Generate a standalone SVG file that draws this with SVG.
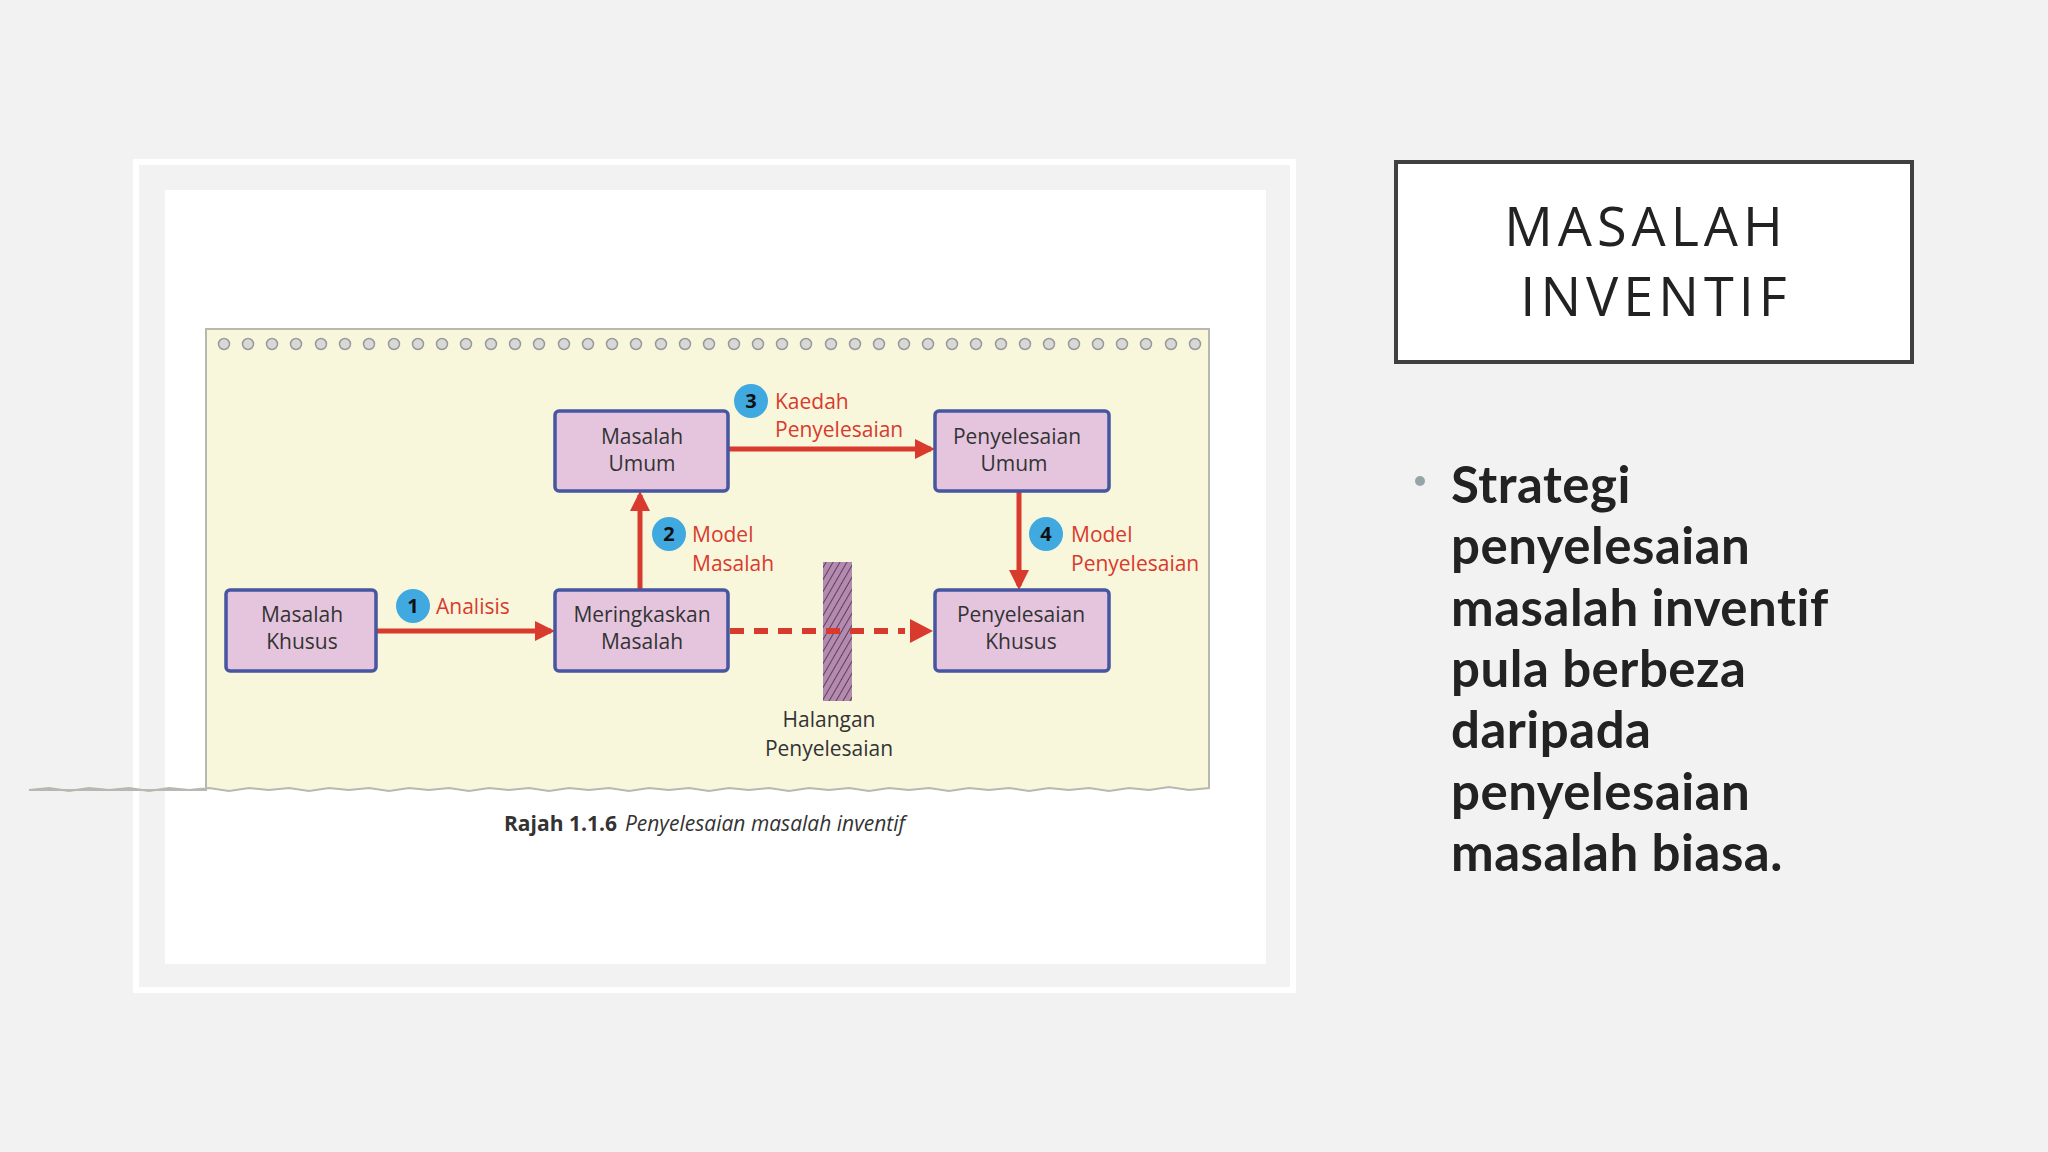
<svg xmlns="http://www.w3.org/2000/svg" width="2048" height="1152" viewBox="0 0 2048 1152">
<defs>
<marker id="ah" viewBox="0 0 10 10" refX="8" refY="5" markerWidth="4" markerHeight="4" orient="auto" markerUnits="strokeWidth"><path d="M0,0 L10,5 L0,10 z" fill="#d93a2e"/></marker>
<pattern id="hatch" width="6" height="6" patternUnits="userSpaceOnUse" patternTransform="rotate(30)"><rect width="6" height="6" fill="#b48aae"/><line x1="0" y1="0" x2="0" y2="6" stroke="#5a4060" stroke-width="2"/></pattern>
</defs>
<style>
.box{fill:#e5c5de;stroke:#4656a0;stroke-width:3.5}
.bt{font-family:"Open Sans",sans-serif;font-size:21px;fill:#333;text-anchor:middle}
.lbl{font-family:"Open Sans",sans-serif;font-size:21px;fill:#d93a2e}
.num{font-family:"Open Sans",sans-serif;font-size:20px;font-weight:bold;fill:#111;text-anchor:middle}
.circ{fill:#3fa9e0}
.arr{stroke:#d93a2e;stroke-width:5;fill:none;marker-end:url(#ah)}
.bul{font-family:Lato,sans-serif;font-weight:bold;font-size:51px;fill:#222;letter-spacing:0.5px}
</style>
<rect width="2048" height="1152" fill="#f2f2f2"/>
<rect x="136" y="162" width="1157" height="828" fill="none" stroke="#fff" stroke-width="6"/>
<rect x="165" y="190" width="1101" height="774" fill="#fff"/>
<g id="paper">
<path d="M206,329 L1209,329 L1209,788 l-20,2 l-20,-3 l-20,3 l-20,-2 l-20,3 l-20,-3 l-20,2 l-20,-2 l-20,3 l-20,-3 l-20,2 l-20,-2 l-20,3 l-20,-3 l-20,2 l-20,-2 l-20,3 l-20,-3 l-20,2 l-20,-2 l-20,3 l-20,-3 l-20,2 l-20,-2 l-20,3 l-20,-3 l-20,2 l-20,-2 l-20,3 l-20,-3 l-20,2 l-20,-2 l-20,3 l-20,-3 l-20,2 l-20,-2 l-20,3 l-20,-3 l-20,2 l-20,-2 l-20,3 l-20,-3 l-20,2 l-20,-2 l-20,3 l-20,-3 l-20,2 l-20,-2 l-20,3 l-20,-3 l-20,2 l-20,-2 l-20,3 l-20,-3 l-20,2 l-20,-2 l-20,3 l-20,-3 l-20,2 L206,790 Z" fill="#f8f7dc" stroke="#b8b8b0" stroke-width="2"/>
<g fill="#d8d8d8" stroke="#999" stroke-width="1.5">
<circle cx="224" cy="344" r="5.5"/><circle cx="248" cy="344" r="5.5"/><circle cx="272" cy="344" r="5.5"/><circle cx="296" cy="344" r="5.5"/><circle cx="321" cy="344" r="5.5"/><circle cx="345" cy="344" r="5.5"/><circle cx="369" cy="344" r="5.5"/><circle cx="394" cy="344" r="5.5"/><circle cx="418" cy="344" r="5.5"/><circle cx="442" cy="344" r="5.5"/><circle cx="466" cy="344" r="5.5"/><circle cx="491" cy="344" r="5.5"/><circle cx="515" cy="344" r="5.5"/><circle cx="539" cy="344" r="5.5"/><circle cx="564" cy="344" r="5.5"/><circle cx="588" cy="344" r="5.5"/><circle cx="612" cy="344" r="5.5"/><circle cx="636" cy="344" r="5.5"/><circle cx="661" cy="344" r="5.5"/><circle cx="685" cy="344" r="5.5"/><circle cx="709" cy="344" r="5.5"/><circle cx="734" cy="344" r="5.5"/><circle cx="758" cy="344" r="5.5"/><circle cx="782" cy="344" r="5.5"/><circle cx="806" cy="344" r="5.5"/><circle cx="831" cy="344" r="5.5"/><circle cx="855" cy="344" r="5.5"/><circle cx="879" cy="344" r="5.5"/><circle cx="904" cy="344" r="5.5"/><circle cx="928" cy="344" r="5.5"/><circle cx="952" cy="344" r="5.5"/><circle cx="976" cy="344" r="5.5"/><circle cx="1001" cy="344" r="5.5"/><circle cx="1025" cy="344" r="5.5"/><circle cx="1049" cy="344" r="5.5"/><circle cx="1074" cy="344" r="5.5"/><circle cx="1098" cy="344" r="5.5"/><circle cx="1122" cy="344" r="5.5"/><circle cx="1146" cy="344" r="5.5"/><circle cx="1171" cy="344" r="5.5"/><circle cx="1195" cy="344" r="5.5"/>
</g>
</g>
<g id="obstacle">
<rect x="823" y="562" width="29" height="139" fill="url(#hatch)"/>
<text class="bt" x="829" y="727">Halangan</text>
<text class="bt" x="829" y="756">Penyelesaian</text>
</g>
<g id="connectors">
<line class="arr" x1="376" y1="631" x2="551" y2="631"/>
<line class="arr" x1="640" y1="590" x2="640" y2="495"/>
<line class="arr" x1="728" y1="449" x2="931" y2="449"/>
<line class="arr" x1="1019" y1="491" x2="1019" y2="586"/>
<line x1="730" y1="631" x2="905" y2="631" stroke="#d93a2e" stroke-width="6" stroke-dasharray="14,10"/>
<path d="M910,619 L933,631 L910,643 z" fill="#d93a2e"/>
<g id="l1"><circle class="circ" cx="413" cy="606" r="17"/><text class="num" x="413" y="613">1</text><text class="lbl" x="436" y="614">Analisis</text></g>
<g id="l2"><circle class="circ" cx="669" cy="534" r="17"/><text class="num" x="669" y="541">2</text><text class="lbl" x="692" y="542">Model</text><text class="lbl" x="692" y="571">Masalah</text></g>
<g id="l3"><circle class="circ" cx="751" cy="401" r="17"/><text class="num" x="751" y="408">3</text><text class="lbl" x="775" y="409">Kaedah</text><text class="lbl" x="775" y="437">Penyelesaian</text></g>
<g id="l4"><circle class="circ" cx="1046" cy="534" r="17"/><text class="num" x="1046" y="541">4</text><text class="lbl" x="1071" y="542">Model</text><text class="lbl" x="1071" y="571">Penyelesaian</text></g>
</g>
<g id="mu"><rect class="box" x="555" y="411" width="173" height="80" rx="4"/><text class="bt" x="642" y="444">Masalah</text><text class="bt" x="642" y="471">Umum</text></g>
<g id="pu"><rect class="box" x="935" y="411" width="174" height="80" rx="4"/><text class="bt" x="1017" y="444">Penyelesaian</text><text class="bt" x="1014" y="471">Umum</text></g>
<g id="mk"><rect class="box" x="226" y="590" width="150" height="81" rx="4"/><text class="bt" x="302" y="622">Masalah</text><text class="bt" x="302" y="649">Khusus</text></g>
<g id="mm"><rect class="box" x="555" y="590" width="173" height="81" rx="4"/><text class="bt" x="642" y="622">Meringkaskan</text><text class="bt" x="642" y="649">Masalah</text></g>
<g id="pk"><rect class="box" x="935" y="590" width="174" height="81" rx="4"/><text class="bt" x="1021" y="622">Penyelesaian</text><text class="bt" x="1021" y="649">Khusus</text></g>
<text x="504" y="831" font-family="'Open Sans',sans-serif" font-size="21" fill="#333"><tspan font-weight="bold">Rajah 1.1.6</tspan><tspan font-style="italic" dx="8">Penyelesaian masalah inventif</tspan></text>
<g id="title">
<rect x="1396" y="162" width="516" height="200" fill="#fff" stroke="#404040" stroke-width="4"/>
<text x="1646" y="246" font-family="'Open Sans',sans-serif" font-size="54" letter-spacing="5" fill="#222" text-anchor="middle">MASALAH</text>
<text x="1656" y="316" font-family="'Open Sans',sans-serif" font-size="54" letter-spacing="5" fill="#222" text-anchor="middle">INVENTIF</text>
</g>
<g id="bullet">
<circle cx="1420" cy="481" r="5" fill="#95a5a6"/>
<text class="bul" x="1451" y="503">Strategi</text>
<text class="bul" x="1451" y="564">penyelesaian</text>
<text class="bul" x="1451" y="626">masalah inventif</text>
<text class="bul" x="1451" y="687">pula berbeza</text>
<text class="bul" x="1451" y="748">daripada</text>
<text class="bul" x="1451" y="810">penyelesaian</text>
<text class="bul" x="1451" y="871">masalah biasa.</text>
</g>
</svg>
